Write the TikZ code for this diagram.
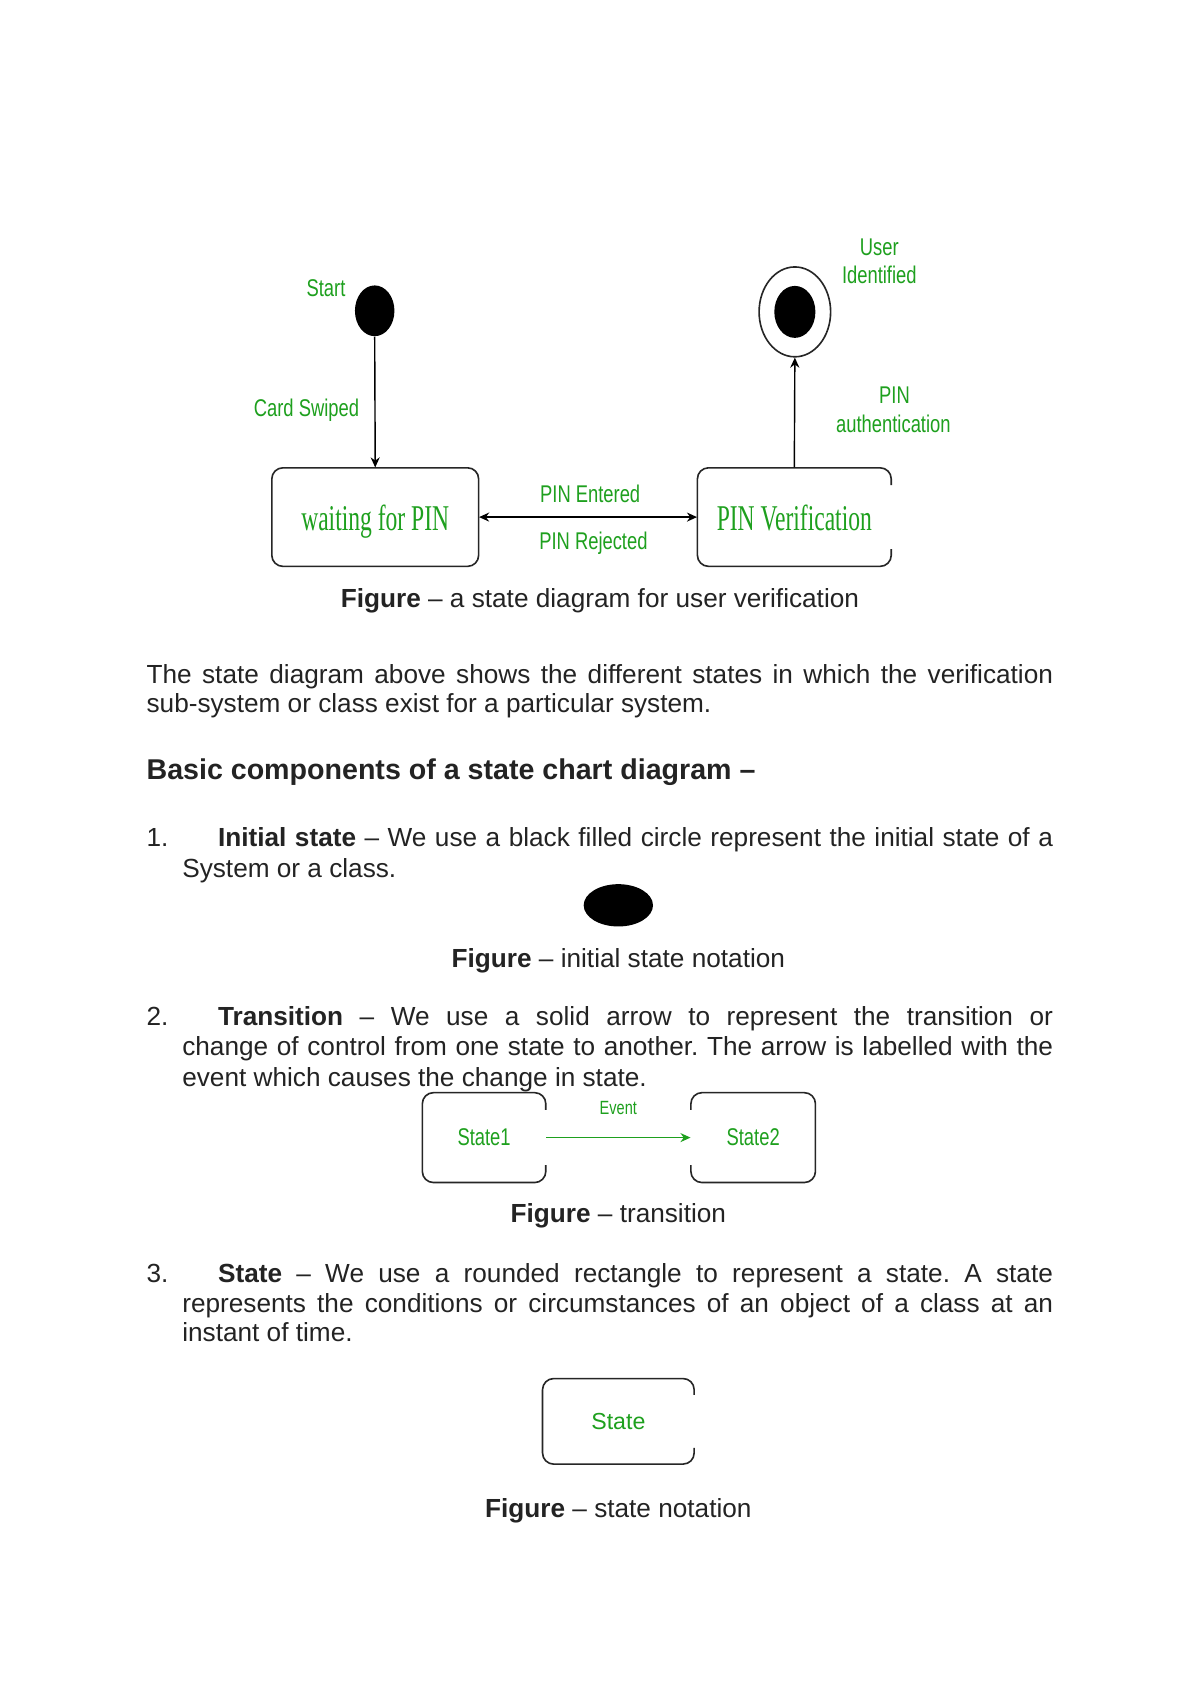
\documentclass[tikz,border=0pt]{standalone}
\usepackage{fontspec}
\setmainfont{Liberation Sans}
\newfontfamily\narrowsans[FakeStretch=0.76]{Liberation Sans}
\newfontfamily\narrowserif[FakeStretch=0.65]{Liberation Serif}
\usetikzlibrary{shapes.geometric,arrows.meta}
\definecolor{txt}{RGB}{35,35,35}
\definecolor{umlgreen}{RGB}{30,160,30}
\frenchspacing
\tikzset{
  body/.style={inner sep=0pt, text=txt, font=\fontsize{13}{15}\selectfont},
  heading/.style={inner sep=0pt, text=txt, font=\fontsize{14.2}{16}\selectfont\bfseries},
  lbl/.style={inner sep=0pt, text=umlgreen, font=\fontsize{12}{14}\selectfont\narrowsans},
  statebox/.style={inner sep=0pt, text=umlgreen},
  serifbox/.style={statebox, font=\fontsize{18}{20}\selectfont\narrowserif, text height=16.8pt, text depth=3.5pt},
  outline/.style={draw=black!85, line width=0.8pt, rounded corners=5.5pt},
  conn/.style={draw=black, line width=0.7pt},
  tip/.style={-{Stealth[length=5pt,width=4.5pt]}},
  blob/.style={ellipse, fill=black, inner sep=0pt}
}
\begin{document}
\begin{tikzpicture}[x=0.5375pt, y=-0.5375pt]
\useasboundingbox (0,0) rectangle (1108,1568);
\fill[white] (0,0) rectangle (1108,1568);

% ---------- top state diagram ----------
\node[blob, minimum width=19.6pt, minimum height=25.2pt] (start) at (346,287) {};
\node[lbl] (startlbl) at (301,266) {Start};
\node[serifbox, minimum width=102.7pt, minimum height=48.9pt] (wait) at (346.5,477.5) {waiting for PIN};
\node[serifbox, minimum width=96.2pt, minimum height=48.9pt] (verif) at (733.5,477.5) {PIN Verification};
\node[ellipse, draw=black!85, line width=0.8pt, fill=white, inner sep=0pt,
      minimum width=35.5pt, minimum height=44.6pt] (final) at (734,288) {};
\node[blob, minimum width=20.4pt, minimum height=25.8pt] (finalin) at (734,288) {};

\draw[outline] (251,432) rectangle (442,523);
\draw[outline] (823,448) -- (823,432) -- (644,432) -- (644,523) -- (823,523) -- (823,507);

\draw[conn, tip] (start.south) -- (wait.north);
\draw[conn, {Stealth[length=5pt,width=4.5pt]}-{Stealth[length=5pt,width=4.5pt]}] (wait.east) -- (verif.west);
\draw[conn, tip] (verif.north) -- (final.south);

\node[lbl] (cardlbl) at (283,379) {Card Swiped};
\node[lbl] (entlbl) at (545,456) {PIN Entered};
\node[lbl] (rejlbl) at (548,502) {PIN Rejected};
\node[lbl] (userlbl) at (812,228) {User};
\node[lbl] (identlbl) at (812,254) {Identified};
\node[lbl] (pinlbl) at (826,365) {PIN};
\node[lbl] (authlbl) at (825,391) {authentication};

\node[body] (cap1) at (554,555) {\textbf{Figure} -- a state diagram for user verification};

% ---------- paragraph ----------
\node[body, anchor=mid west] (p1) at (135,626) {\makebox[449.9pt][s]{The state diagram above shows the different states in which the verification}};
\node[body, anchor=mid west] (p2) at (135,653) {sub-system or class exist for a particular system.};

\node[heading, anchor=mid west] (h1) at (135,715) {Basic components of a state chart diagram --};

% ---------- item 1 ----------
\node[body, anchor=mid west] (n1) at (135,777) {1.};
\node[body, anchor=mid west] (i1a) at (201,777) {\makebox[414.4pt][s]{\textbf{Initial state} -- We use a black filled circle represent the initial state of a}};
\node[body, anchor=mid west] (i1b) at (168,805) {System or a class.};
\node[blob, minimum width=34.4pt, minimum height=21pt] (init) at (571,836) {};
\node[body] (cap2) at (571,887) {\textbf{Figure} -- initial state notation};

% ---------- item 2 ----------
\node[body, anchor=mid west] (n2) at (135,942) {2.};
\node[body, anchor=mid west] (i2a) at (201,942) {\makebox[414.4pt][s]{\textbf{Transition} -- We use a solid arrow to represent the transition or}};
\node[body, anchor=mid west] (i2b) at (168,970) {\makebox[432.2pt][s]{change of control from one state to another. The arrow is labelled with the}};
\node[body, anchor=mid west] (i2c) at (168,998) {event which causes the change in state.};

\node[statebox, minimum width=61.3pt, minimum height=44.6pt,
      font=\fontsize{12}{14}\selectfont\narrowsans] (s1) at (447,1050.5) {State1};
\node[statebox, minimum width=61.8pt, minimum height=44.6pt,
      font=\fontsize{12}{14}\selectfont\narrowsans] (s2) at (695.5,1050.5) {State2};
\draw[outline] (504,1025) -- (504,1009) -- (390,1009) -- (390,1092) -- (504,1092) -- (504,1076);
\draw[outline] (638,1025) -- (638,1009) -- (753,1009) -- (753,1092) -- (638,1092) -- (638,1076);
\draw[draw=umlgreen, line width=0.7pt, tip] (s1.east) -- (s2.west);
\node[lbl, font=\fontsize{9.5}{11}\selectfont\narrowsans] (evlbl) at (571,1023) {Event};
\node[body] (cap3) at (571,1123) {\textbf{Figure} -- transition};

% ---------- item 3 ----------
\node[body, anchor=mid west] (n3) at (135,1179) {3.};
\node[body, anchor=mid west] (i3a) at (201,1179) {\makebox[414.4pt][s]{\textbf{State} -- We use a rounded rectangle to represent a state. A state}};
\node[body, anchor=mid west] (i3b) at (168,1207) {\makebox[432.2pt][s]{represents the conditions or circumstances of an object of a class at an}};
\node[body, anchor=mid west] (i3c) at (168,1234) {instant of time.};

\node[statebox, minimum width=75.3pt, minimum height=42.5pt,
      font=\fontsize{11.5}{13}\selectfont] (st) at (571,1312.5) {State};
\draw[outline] (641,1288) -- (641,1273) -- (501,1273) -- (501,1352) -- (641,1352) -- (641,1337);
\node[body] (cap4) at (571,1395) {\textbf{Figure} -- state notation};
\end{tikzpicture}
\end{document}
